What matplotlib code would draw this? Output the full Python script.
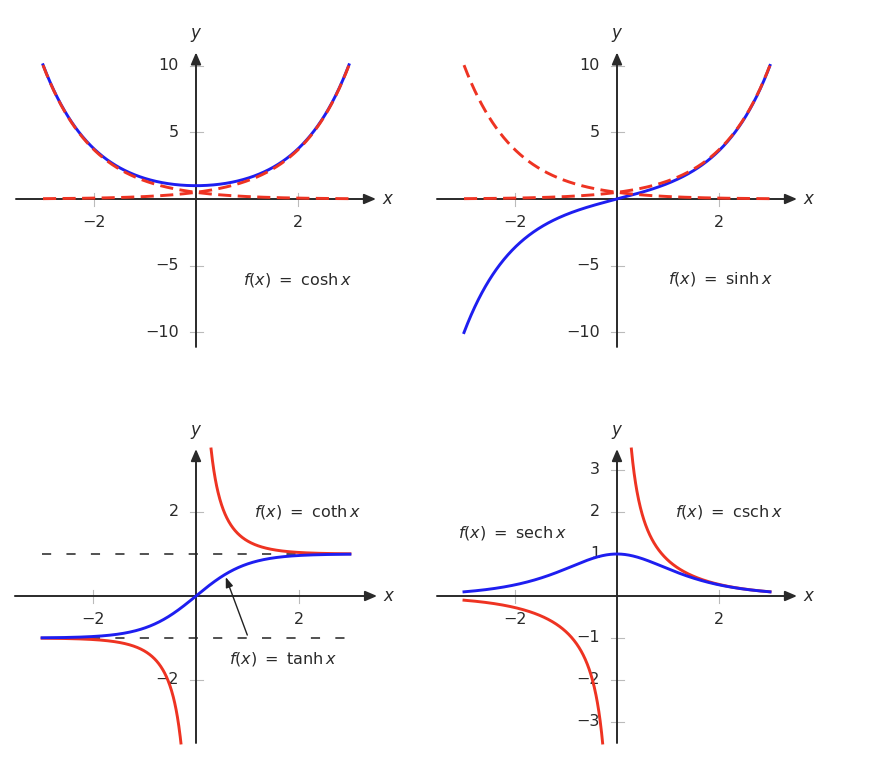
import numpy as np
import matplotlib
matplotlib.use("Agg")
import matplotlib.pyplot as plt

plt.rcParams['font.family'] = ['DejaVu Sans']
plt.rcParams['mathtext.fontset'] = 'dejavusans'

# ---- data ----
x_domain = [-3.0, 3.0]
y_limit_bottom = 3.5           # restrict y domain for coth / csch
xticks = [-2, 2]
yticks_top = [-10, -5, 5, 10]
yticks_bl = [-2, 2]
yticks_br = [-3, -2, -1, 1, 2, 3]
labels = {
    'cosh': r'$f(x)\ =\ \mathrm{cosh}\,x$',
    'sinh': r'$f(x)\ =\ \mathrm{sinh}\,x$',
    'coth': r'$f(x)\ =\ \mathrm{coth}\,x$',
    'tanh': r'$f(x)\ =\ \mathrm{tanh}\,x$',
    'sech': r'$f(x)\ =\ \mathrm{sech}\,x$',
    'csch': r'$f(x)\ =\ \mathrm{csch}\,x$',
}
label_pos = {
    'cosh': (1.99, -6.05), 'sinh': (2.02, -6.0),
    'coth': (2.18, 2.01), 'tanh': (1.69, -1.49),
    'sech': (-2.05, 1.49), 'csch': (2.2, 2.01),
}
tanh_arrow_tail = (1.0, -0.93)
tanh_arrow_head = (0.58, 0.45)

BLUE = '#1e1ef0'
RED = '#ee3322'
AXC = '#2a2a2a'
TICKC = '#bbbbbb'
TXTC = '#2a2a2a'

W, H = 875, 769
fig = plt.figure(figsize=(W / 100, H / 100), dpi=100)

x = np.linspace(x_domain[0], x_domain[1], 600)


def make_ax(ox, oy, sx, sy, xlim, ylim):
    left = ox + sx * xlim[0]
    right = ox + sx * xlim[1]
    top = oy - sy * ylim[1]
    bottom = oy - sy * ylim[0]
    ax = fig.add_axes([left / W, 1 - bottom / H, (right - left) / W, (bottom - top) / H])
    ax.set_xlim(xlim)
    ax.set_ylim(ylim)
    ax.axis('off')
    return ax


def draw_axes(ax, sx, sy, xa, ya, xt, yt, ylab_y):
    ap = dict(arrowstyle='-|>,head_length=0.7,head_width=0.3', color=AXC, lw=1.4,
              mutation_scale=10, shrinkA=0, shrinkB=0)
    ax.annotate('', xy=(xa[1], 0), xytext=(xa[0], 0), arrowprops=ap, annotation_clip=False, zorder=2)
    ax.annotate('', xy=(0, ya[1]), xytext=(0, ya[0]), arrowprops=ap, annotation_clip=False, zorder=2)
    dx = 6.5 / sx
    dy = 6.5 / sy
    for t in xt:
        ax.plot([t, t], [-dy, dy], color=TICKC, lw=0.8, zorder=1, clip_on=False)
        ax.annotate(str(t).replace('-', '\u2212'), xy=(t, 0), xytext=(0, -16),
                    textcoords='offset pixels', ha='center', va='top',
                    fontsize=11.5, color=TXTC, zorder=0, annotation_clip=False)
    for t in yt:
        ax.plot([-dx, dx], [t, t], color=TICKC, lw=0.8, zorder=1, clip_on=False)
        ax.annotate(str(t).replace('-', '\u2212'), xy=(0, t), xytext=(-17, 0),
                    textcoords='offset pixels', ha='right', va='center',
                    fontsize=11.5, color=TXTC, zorder=0, annotation_clip=False)
    ax.annotate(r'$x$', xy=(xa[1], 0), xytext=(12, 0), textcoords='offset pixels',
                ha='center', va='center', fontsize=12, color=TXTC, annotation_clip=False)
    ax.text(0, ylab_y, r'$y$', ha='center', va='center', fontsize=12, color=TXTC)


XAX = (-3.53, 3.53)
dash = (0, (4.5, 2.2))
LW = 2.1

# ---- top-left: cosh ----
sx, sy = 51.0, 13.33
ax = make_ax(196, 199, sx, sy, (-3.9, 4.1), (-12, 13.5))
draw_axes(ax, sx, sy, XAX, (-11.1, 11.0), xticks, yticks_top, 12.3)
ax.plot(x, np.cosh(x), color=BLUE, lw=LW, zorder=3)
ax.plot(x, np.exp(x) / 2, color=RED, lw=LW, ls=dash, zorder=4)
ax.plot(x, np.exp(-x) / 2, color=RED, lw=LW, ls=dash, zorder=4)
ax.text(*label_pos['cosh'], labels['cosh'], ha='center', va='center', fontsize=11.5, color=TXTC)

# ---- top-right: sinh ----
ax = make_ax(617, 199, sx, sy, (-3.9, 4.1), (-12, 13.5))
draw_axes(ax, sx, sy, XAX, (-11.1, 11.0), xticks, yticks_top, 12.3)
ax.plot(x, np.sinh(x), color=BLUE, lw=LW, zorder=3)
ax.plot(x, np.exp(x) / 2, color=RED, lw=LW, ls=dash, zorder=4)
ax.plot(x, np.exp(-x) / 2, color=RED, lw=LW, ls=dash, zorder=4)
ax.text(*label_pos['sinh'], labels['sinh'], ha='center', va='center', fontsize=11.5, color=TXTC)

# ---- bottom-left: tanh / coth ----
sx, sy = 51.3, 42.0
ax = make_ax(196, 596, sx, sy, (-3.9, 4.1), (-4.0, 4.5))
draw_axes(ax, sx, sy, XAX, (-3.5, 3.5), xticks, yticks_bl, 3.9)
ax.plot(x_domain, [1, 1], color='#222222', lw=1.1, ls=(0, (6, 10)), zorder=2)
ax.plot(x_domain, [-1, -1], color='#222222', lw=1.1, ls=(0, (6, 10)), zorder=2)
c0 = np.arctanh(1 / y_limit_bottom)
xp = np.linspace(c0, x_domain[1], 400)
xn = np.linspace(x_domain[0], -c0, 400)
ax.plot(xp, 1 / np.tanh(xp), color=RED, lw=LW, zorder=3)
ax.plot(xn, 1 / np.tanh(xn), color=RED, lw=LW, zorder=3)
ax.plot(x, np.tanh(x), color=BLUE, lw=LW, zorder=4)
ax.annotate('', xy=tanh_arrow_head, xytext=tanh_arrow_tail,
            arrowprops=dict(arrowstyle='-|>,head_length=0.6,head_width=0.22', color='#222222',
                            lw=1.0, mutation_scale=10, shrinkA=0, shrinkB=0), zorder=5)
ax.text(*label_pos['coth'], labels['coth'], ha='center', va='center', fontsize=11.5, color=TXTC)
ax.text(*label_pos['tanh'], labels['tanh'], ha='center', va='center', fontsize=11.5, color=TXTC)

# ---- bottom-right: sech / csch ----
sx, sy = 51.0, 42.0
ax = make_ax(617, 596, sx, sy, (-3.9, 4.1), (-4.0, 4.5))
draw_axes(ax, sx, sy, XAX, (-3.5, 3.5), xticks, yticks_br, 3.9)
c1 = np.arcsinh(1 / y_limit_bottom)
xp = np.linspace(c1, x_domain[1], 400)
xn = np.linspace(x_domain[0], -c1, 400)
ax.plot(xp, 1 / np.sinh(xp), color=RED, lw=LW, zorder=3)
ax.plot(xn, 1 / np.sinh(xn), color=RED, lw=LW, zorder=3)
ax.plot(x, 1 / np.cosh(x), color=BLUE, lw=LW, zorder=4)
ax.text(*label_pos['sech'], labels['sech'], ha='center', va='center', fontsize=11.5, color=TXTC)
ax.text(*label_pos['csch'], labels['csch'], ha='center', va='center', fontsize=11.5, color=TXTC)

fig.savefig('out.png', dpi=100)
